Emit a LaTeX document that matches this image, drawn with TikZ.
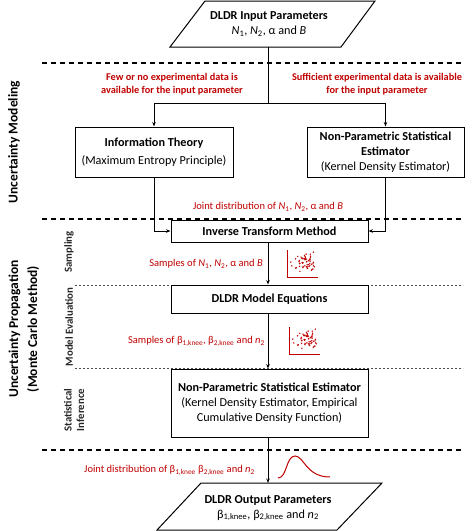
\documentclass[tikz,border=0pt]{standalone}
\usepackage{fontspec}
\setmainfont{Carlito}
\usetikzlibrary{arrows.meta}
\definecolor{dred}{RGB}{192,0,0}
\begin{document}
\begin{tikzpicture}[x=1pt,y=-1pt,
  box/.style={draw,line width=1pt,fill=white,align=center,inner sep=0pt,font=\fontsize{12.2}{15}\selectfont},
  conn/.style={line width=0.9pt,-{Stealth[length=4.5pt,width=3.5pt]}},
  plain/.style={line width=0.9pt},
  sep/.style={line width=1.1pt,dash pattern=on 5pt off 4pt},
  subsep/.style={line width=0.8pt,dash pattern=on 2pt off 2pt,black!70},
  redlbl/.style={text=dred,font=\fontsize{10.5}{13}\selectfont,align=center,inner sep=0pt},
  redbold/.style={redlbl,font=\bfseries\fontsize{10.3}{13}\selectfont},
  sidelbl/.style={rotate=90,font=\bfseries\fontsize{13.5}{19}\selectfont,align=center,inner sep=0pt},
  sublbl/.style={rotate=90,font=\bfseries\fontsize{10.8}{12.5}\selectfont,text=black!85,align=center,inner sep=0pt},
  icon/.style={dred,line width=0.8pt}]
\useasboundingbox (0,0) rectangle (474,531);
% separators
\draw[sep] (42,63) -- (463,63);
\draw[sep] (42,219) -- (463,219);
\draw[sep] (42,450) -- (463,450);
\draw[subsep] (75,285) -- (463,285);
\draw[subsep] (75,368) -- (463,368);
% side labels
\node[sidelbl] (um) at (14,142) {Uncertainty Modeling};
\node[sidelbl] (up) at (24,329) {Uncertainty Propagation\\(Monte Carlo Method)};
\node[sublbl] (ls) at (69,252) {Sampling};
\node[sublbl] (lm) at (69,327) {Model Evaluation};
\node[sublbl] (li) at (74,410) {Statistical\\Inference};
% input parallelogram
\draw[line width=1pt,fill=white] (205,1) -- (375,1) -- (341,47) -- (170,47) -- cycle;
\node[align=center,inner sep=0pt,font=\fontsize{12.2}{15}\selectfont] (in) at (269,24)
  {\textbf{DLDR Input Parameters}\\\textit{N}\textsubscript{1}, \textit{N}\textsubscript{2}, α and \textit{B}};
\coordinate (inbot) at (268,47);
\coordinate (split) at (268,103);
% boxes
\node[box,minimum width=158pt,minimum height=50pt] (info) at (154,152)
  {\textbf{Information Theory}\\[3pt](Maximum Entropy Principle)};
\node[box,minimum width=157pt,minimum height=50pt] (npse) at (385.5,152)
  {\textbf{Non-Parametric Statistical}\\\textbf{Estimator}\\(Kernel Density Estimator)};
\node[box,minimum width=197pt,minimum height=22pt] (itm) at (269.5,231)
  {\textbf{Inverse Transform Method}};
\node[box,minimum width=197pt,minimum height=28pt] (dme) at (269.5,299)
  {\textbf{DLDR Model Equations}};
\node[box,minimum width=197pt,minimum height=68pt] (npse2) at (269.5,403)
  {\textbf{Non-Parametric Statistical Estimator}\\(Kernel Density Estimator, Empirical\\Cumulative Density Function)};
% output parallelogram
\draw[line width=1pt,fill=white] (201,483) -- (382,483) -- (337,530) -- (157,530) -- cycle;
\node[align=center,inner sep=0pt,font=\fontsize{12.2}{15}\selectfont] (out) at (268,508)
  {\textbf{DLDR Output Parameters}\\β\textsubscript{1,knee}, β\textsubscript{2,knee} and \textit{n}\textsubscript{2}};
\coordinate (outtop) at (268,483);
% connectors
\draw[plain] (inbot) -- (split);
\draw[conn] (split) -| (info.north);
\draw[conn] (split) -| (npse.north);
\draw[conn] (info.south) |- (itm.west);
\draw[conn] (npse.south) |- (itm.east);
\draw[conn] (itm.south -| inbot) -- (dme.north -| inbot);
\draw[conn] (dme.south -| inbot) -- (npse2.north -| inbot);
\draw[conn] (npse2.south -| inbot) -- (outtop);
% red labels
\node[redbold] (l1) at (172,84) {Few or no experimental data is\\available for the input parameter};
\node[redbold] (l2) at (377,84) {Sufficient experimental data is available\\for the input parameter};
\node[redlbl] (l3) at (268,207) {Joint distribution of \textit{N}\textsubscript{1}, \textit{N}\textsubscript{2}, α and \textit{B}};
\node[redlbl,anchor=east] (l4) at (263,264) {Samples of \textit{N}\textsubscript{1}, \textit{N}\textsubscript{2}, α and \textit{B}};
\node[redlbl,anchor=east] (l5) at (265,341) {Samples of β\textsubscript{1,knee}, β\textsubscript{2,knee} and \textit{n}\textsubscript{2}};
\node[redlbl,anchor=east] (l6) at (255,470) {Joint distribution of β\textsubscript{1,knee} β\textsubscript{2,knee} and \textit{n}\textsubscript{2}};
% scatter icons
\foreach \ox/\oy in {287/250, 289/327}{
  \begin{scope}[shift={(\ox,\oy)}]
    \draw[icon] (0,0) -- (0,27) -- (31,27);
    \begin{scope}
      \clip (3,1) rectangle (31,25);
      \pgfmathsetseed{11}
      \foreach \k in {1,...,60}{
        \pgfmathsetmacro{\dx}{17+5.2*(rand+rand+rand)}
        \pgfmathsetmacro{\dy}{12.5+4.4*(rand+rand+rand)}
        \fill[dred] (\dx,\dy) circle (0.8pt);
      }
    \end{scope}
  \end{scope}
}
% bell curve
\draw[icon,line width=1pt] (278,478) .. controls (287,478) and (286,456) .. (295,456)
  .. controls (304,456) and (306,477) .. (330,477);
\end{tikzpicture}
\end{document}
